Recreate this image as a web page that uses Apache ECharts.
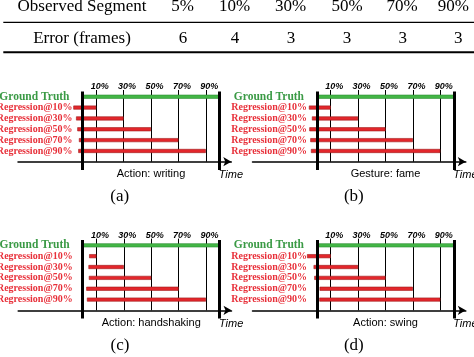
<!DOCTYPE html>
<html><head><meta charset="utf-8">
<script src="https://cdn.jsdelivr.net/npm/echarts@6/dist/echarts.min.js"></script>
<style>html,body{margin:0;padding:0;background:#fff}#c{width:474px;height:357px}</style>
</head><body><div id="c"></div>
<script>
// ---------- data ----------
const tableRowHeaders = ['Observed Segment', 'Error (frames)'];
const observedSegments = ['5%', '10%', '30%', '50%', '70%', '90%'];
const errorFrames = [6, 4, 3, 3, 3, 3];

const rowLabels = ['Ground Truth', 'Regression@10%', 'Regression@30%', 'Regression@50%', 'Regression@70%', 'Regression@90%'];
const timeTicks = [10, 30, 50, 70, 90];
const boundTicks = [0, 100];
const groundTruth = [0, 100];
const regressionEnds = [10, 30, 50, 70, 90];
const startsWriting = [-6.7, -4.7, -3.8, -2.6, -3.1];
const startsFame = [-5.9, -3.7, -5.6, -4.9, -4.4];
const startsHandshaking = [4.7, 4.2, 4.5, 2.6, 3.1];
const startsSwing = [-7.3, -2.5, -2.0, 1.9, 1.7];
const panelNames = ['Action: writing', 'Gesture: fame', 'Action: handshaking', 'Action: swing'];
const panelTags = ['(a)', '(b)', '(c)', '(d)'];

// ---------- layout / style ----------
const AX_MIN = -47.08, AX_MAX = 108.6;
const GW = 213.3, GH = 65.1;
const ZERO_SHIFT = -AX_MIN * GW / (AX_MAX - AX_MIN);
const layouts = [{left: 18, top: 91.3}, {left: 252.5, top: 91.3}, {left: 18.2, top: 239.9}, {left: 252.5, top: 239.9}];
const tagPos = [[119.7, 196.7], [353.8, 196.7], [120, 345.7], [353.8, 345.7]];
const headerColX = [182.7, 234.5, 290.5, 347, 402, 453.3];
const valueColX = [183, 235, 291, 347, 402.7, 458.3];
const RED = '#e3262b', RED_DARK = '#9e1b1b', GREEN = '#43b646', GREEN_DARK = '#2c8c33';
const LABEL_RED = '#e8303a', LABEL_GREEN = '#3a9a45';
const SERIF = '"Liberation Serif", "Times New Roman", serif';
const SANS = '"Liberation Sans", Arial, sans-serif';

const allStarts = [startsWriting, startsFame, startsHandshaking, startsSwing];

const grids = [], xAxes = [], yAxes = [], series = [];
allStarts.forEach((st, i) => {
  const L = layouts[i];
  grids.push({left: L.left, top: L.top, width: GW, height: GH, containLabel: false, outerBoundsMode: 'none'});
  // top axis: thin time lines + percent labels
  xAxes.push({
    gridIndex: i, type: 'value', position: 'top', offset: 1.3, min: AX_MIN, max: AX_MAX,
    axisLine: {show: false, onZero: false}, splitLine: {show: false},
    axisTick: {show: true, inside: true, length: 71.7, customValues: timeTicks, lineStyle: {color: '#000', width: 1}},
    axisLabel: {show: true, customValues: timeTicks, formatter: '{value}%', fontFamily: SANS, fontStyle: 'italic',
      fontWeight: 'bold', fontSize: 9, color: '#000', margin: -1, padding: [0, 0, 0, 7]}
  });
  // main time axis with arrow
  xAxes.push({
    gridIndex: i, type: 'value', position: 'bottom', offset: 5.3, min: AX_MIN, max: AX_MAX,
    axisLine: {show: true, onZero: false, symbol: ['none', 'arrow'], symbolSize: [7, 8], lineStyle: {color: '#000', width: 1.5}},
    splitLine: {show: false}, axisTick: {show: false},
    axisLabel: {show: true, customValues: [50], formatter: () => panelNames[i], fontFamily: SANS, fontSize: 11, color: '#000', margin: 7},
    name: 'Time', nameLocation: 'end', nameGap: -12.6,
    nameTextStyle: {fontFamily: SANS, fontStyle: 'italic', fontSize: 11, color: '#000', align: 'left', verticalAlign: 'top', padding: [8, 0, 0, 0]}
  });
  // thick start / end lines
  xAxes.push({
    gridIndex: i, type: 'value', position: 'bottom', offset: 13.6, min: AX_MIN, max: AX_MAX, z: 5,
    axisLine: {show: false, onZero: false}, splitLine: {show: false}, axisLabel: {show: false},
    axisTick: {show: true, inside: true, length: 78.5, customValues: boundTicks, lineStyle: {color: '#000', width: 3}}
  });
  // category labels, placed just left of the 0 line
  yAxes.push({
    gridIndex: i, type: 'category', inverse: true, position: 'left', offset: -ZERO_SHIFT,
    data: rowLabels.map((r, k) => k === 0 ? {value: r, textStyle: {color: LABEL_GREEN, fontSize: 11.5, padding: [0, 3, 0, 0]}} : r),
    axisLine: {show: false, onZero: false}, axisTick: {show: false}, splitLine: {show: false},
    axisLabel: {interval: 0, margin: 10, fontFamily: SERIF, fontWeight: 'bold', fontSize: 10, color: LABEL_RED}
  });
  const base = [groundTruth[0]].concat(st.map(s => Math.max(s, 0)));
  const pos = [{value: groundTruth[1] - groundTruth[0], itemStyle: {color: GREEN, borderColor: GREEN_DARK}}]
    .concat(st.map((s, k) => regressionEnds[k] - Math.max(s, 0)));
  const neg = ['-'].concat(st.map(s => s < 0 ? s : '-'));
  const common = {type: 'bar', xAxisIndex: i * 3 + 1, yAxisIndex: i, stack: 'p' + i, barWidth: 4, silent: true};
  series.push(Object.assign({}, common, {data: base, itemStyle: {color: 'rgba(0,0,0,0)'}}));
  series.push(Object.assign({}, common, {data: pos, itemStyle: {color: RED, borderColor: RED_DARK, borderWidth: 0.6}}));
  series.push(Object.assign({}, common, {data: neg, itemStyle: {color: RED, borderColor: RED_DARK, borderWidth: 0.6}}));
});

const txt = (text, x, y) => ({type: 'text', x: x, y: y,
  style: {text: text, font: '17px ' + SERIF, fill: '#000', align: 'center', verticalAlign: 'middle', textAlign: 'center', textVerticalAlign: 'middle'}});
const graphic = [];
graphic.push(txt(tableRowHeaders[0], 82, 6.5));
graphic.push(txt(tableRowHeaders[1], 82, 38.3));
observedSegments.forEach((s, k) => graphic.push(txt(s, headerColX[k], 6.5)));
errorFrames.forEach((v, k) => graphic.push(txt(String(v), valueColX[k], 38.3)));
graphic.push({type: 'line', shape: {x1: 3.3, y1: 22.3, x2: 474, y2: 22.3}, style: {stroke: '#000', lineWidth: 1.3}});
graphic.push({type: 'line', shape: {x1: 3.3, y1: 52.3, x2: 474, y2: 52.3}, style: {stroke: '#000', lineWidth: 2}});
panelTags.forEach((t, i) => graphic.push(txt(t, tagPos[i][0], tagPos[i][1])));

const chart = echarts.init(document.getElementById('c'), null, {renderer: 'canvas'});
chart.setOption({
  animation: false,
  backgroundColor: '#fff',
  grid: grids, xAxis: xAxes, yAxis: yAxes, series: series, graphic: graphic
});
</script></body></html>
